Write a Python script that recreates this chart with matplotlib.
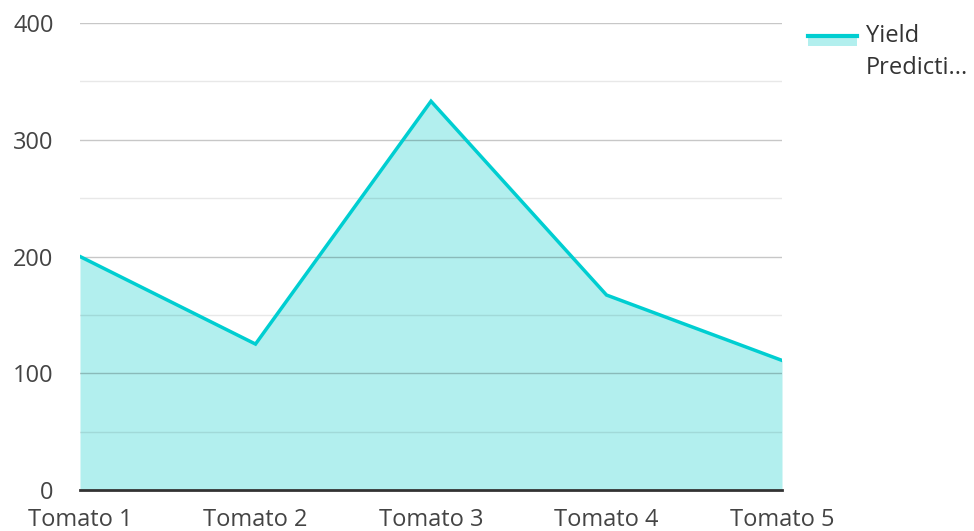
import matplotlib
matplotlib.use("Agg")
from matplotlib import pyplot as plt
from matplotlib.patches import Rectangle
from matplotlib.lines import Line2D

plt.rcParams['font.family'] = ['Open Sans', 'DejaVu Sans']

# datos
categorias = ["Tomato 1", "Tomato 2", "Tomato 3", "Tomato 4", "Tomato 5"]
prediccion = [200, 125, 333, 167, 111]
serie = "Yield\nPredicti..."

linea = "#00CED1"
relleno = "#B2EFEE"

fig = plt.figure(figsize=(9.74, 5.31), dpi=100)
W, H = 974, 531
ax = fig.add_axes([80 / W, 1 - 490 / H, (782 - 80) / W, (490 - 23) / H])

x = list(range(len(categorias)))
ax.fill_between(x, prediccion, 0, color=relleno, lw=0, zorder=1)
ax.plot(x, prediccion, color=linea, lw=2.5, zorder=3, solid_joinstyle="miter")

ax.set_xlim(0, len(categorias) - 1)
ax.set_ylim(0, 400)

# grid: mayores cada 100, menores cada 50
for v in range(50, 401, 50):
    if v % 100 == 0:
        ax.axhline(v, color="#000000", alpha=0.22, lw=1, zorder=2)
    else:
        ax.axhline(v, color="#000000", alpha=0.09, lw=1, zorder=2)
ax.axhline(0, color="#333333", lw=2, zorder=4, clip_on=False)

for s in ax.spines.values():
    s.set_visible(False)

ax.set_yticks(range(0, 401, 100))
ax.set_xticks(x)
ax.set_xticklabels(categorias)
ax.tick_params(axis="both", length=0, labelsize=17, labelcolor="#444444")
ax.tick_params(axis="y", pad=19)
ax.tick_params(axis="x", pad=13)

# leyenda manual
fig.patches.append(Rectangle((808 / W, 1 - 46 / H), 49 / W, 11 / H,
                             transform=fig.transFigure, color=relleno, lw=0))
fig.lines.append(Line2D([808 / W, 857 / W], [1 - 35.5 / H, 1 - 35.5 / H],
                        transform=fig.transFigure, color=linea, lw=3))
fig.text(866 / W, 1 - 36 / H, "Yield", fontsize=17, color="#333333", va="center")
fig.text(866 / W, 1 - 68 / H, "Predicti...", fontsize=17, color="#333333", va="center")

fig.savefig("out.png", dpi=100)
